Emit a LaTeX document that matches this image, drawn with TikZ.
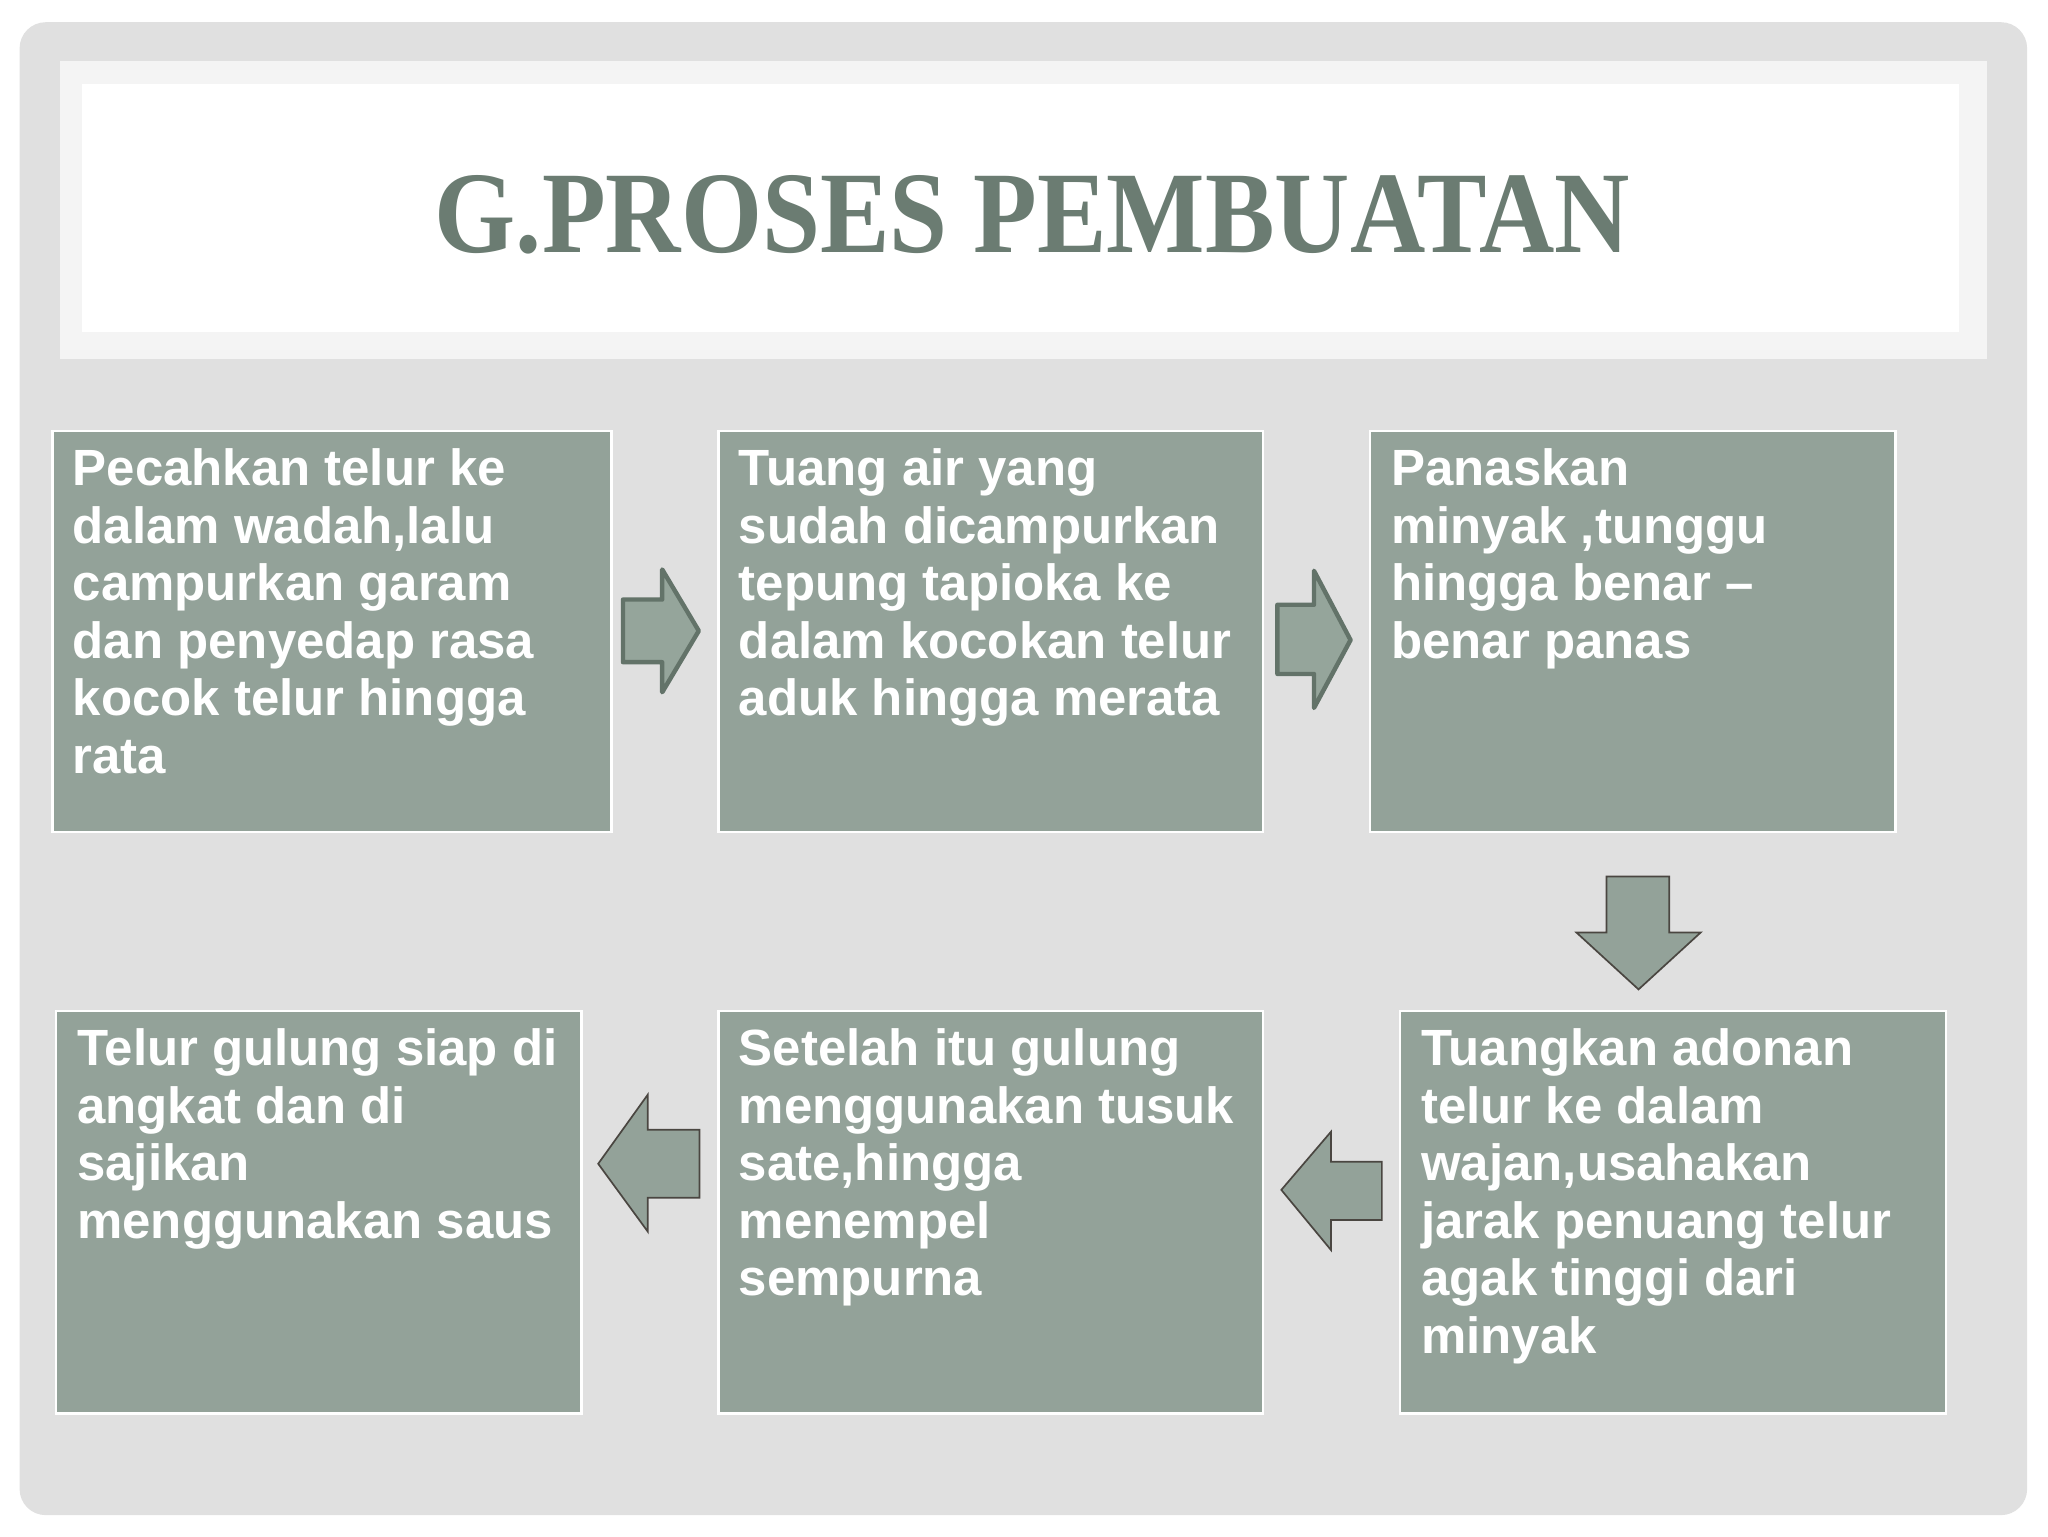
\documentclass[tikz,border=0pt]{standalone}
\usepackage{fontspec}
\setmainfont{Liberation Sans}
\newfontfamily\titlefont{Liberation Serif}
\definecolor{panel}{RGB}{224,224,224}
\definecolor{frameband}{RGB}{244,244,244}
\definecolor{boxfill}{RGB}{147,162,153}
\definecolor{titlecol}{RGB}{107,124,114}
\definecolor{rarrowline}{RGB}{99,115,105}
\definecolor{rarrowfill}{RGB}{149,165,155}
\definecolor{darkline}{RGB}{74,70,65}
\tikzset{
  stepbox/.style={draw=white, line width=2pt, fill=boxfill, inner sep=0pt, anchor=north west},
  steptext/.style={anchor=base west, inner sep=0pt, text=white, font=\fontsize{39}{44}\selectfont\bfseries},
  rightarrow/.style={draw=rarrowline, fill=rarrowfill, line width=3.4pt, line join=round},
  otherarrow/.style={draw=darkline, fill=boxfill, line width=1.3pt, line join=miter}
}
\begin{document}
\begin{tikzpicture}[x=1pt,y=-1pt]
\useasboundingbox (0,0) rectangle (1568,1176);
\fill[white] (0,0) rectangle (1568,1176);
\fill[panel, rounded corners=20pt] (15,17) rectangle (1552,1160);
% title band
\fill[frameband] (46,47) rectangle (1521,275);
\fill[white] (63,64) rectangle (1500,254);
\node[anchor=base, inner sep=0pt, text=titlecol] (title) at (790.5,193)
  {\resizebox{915pt}{59pt}{\titlefont\bfseries G.PROSES PEMBUATAN}};
% boxes
\node[stepbox, minimum width=428pt, minimum height=307pt] (b1) at (39,329) {};
\node[stepbox, minimum width=417pt, minimum height=307pt] (b2) at (549,329) {};
\node[stepbox, minimum width=402pt, minimum height=307pt] (b3) at (1048,329) {};
\node[stepbox, minimum width=418pt, minimum height=308pt] (b4) at (1071,773) {};
\node[stepbox, minimum width=417pt, minimum height=308pt] (b5) at (549,773) {};
\node[stepbox, minimum width=402pt, minimum height=308pt] (b6) at (42,773) {};
% texts
\node[steptext] (t1) at (55.5,372) {\vtop{\hbox{Pecahkan telur ke}\hbox{dalam wadah,lalu}\hbox{campurkan garam}\hbox{dan penyedap rasa}\hbox{kocok telur hingga}\hbox{rata}}};
\node[steptext] (t2) at (565.5,372) {\vtop{\hbox{Tuang air yang}\hbox{sudah dicampurkan}\hbox{tepung tapioka ke}\hbox{dalam kocokan telur}\hbox{aduk hingga merata}}};
\node[steptext] (t3) at (1065,372) {\vtop{\hbox{Panaskan}\hbox{minyak ,tunggu}\hbox{hingga benar –}\hbox{benar panas}}};
\node[steptext] (t4) at (1088,816) {\vtop{\hbox{Tuangkan adonan}\hbox{telur ke dalam}\hbox{wajan,usahakan}\hbox{jarak penuang telur}\hbox{agak tinggi dari}\hbox{minyak}}};
\node[steptext] (t5) at (565.5,816) {\vtop{\hbox{Setelah itu gulung}\hbox{menggunakan tusuk}\hbox{sate,hingga}\hbox{menempel}\hbox{sempurna}}};
\node[steptext] (t6) at (59,816) {\vtop{\hbox{Telur gulung siap di}\hbox{angkat dan di}\hbox{sajikan}\hbox{menggunakan saus}}};
% block arrows
\draw[rightarrow] (477,459) -- (507,459) -- (507,436) -- (535,483) -- (507,530) -- (507,507) -- (477,507) -- cycle;
\draw[rightarrow] (978,463) -- (1006,463) -- (1006,437) -- (1034,490) -- (1006,542) -- (1006,516) -- (978,516) -- cycle;
\draw[otherarrow] (1230,671) -- (1278,671) -- (1278,714) -- (1302,714) -- (1254.5,757.5) -- (1207,714) -- (1230,714) -- cycle;
\draw[otherarrow] (535.5,865) -- (496,865) -- (496,838) -- (458,891) -- (496,943) -- (496,917) -- (535.5,917) -- cycle;
\draw[otherarrow] (1058,889.5) -- (1019,889.5) -- (1019,866.5) -- (981,911) -- (1019,957) -- (1019,934) -- (1058,934) -- cycle;
\end{tikzpicture}
\end{document}
